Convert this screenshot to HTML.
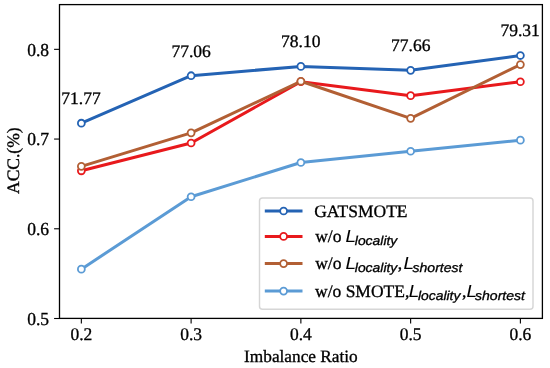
<!DOCTYPE html><html><head><meta charset="utf-8"><style>html,body{margin:0;padding:0;background:#fff;}svg{display:block;will-change:transform}text{text-rendering:geometricPrecision;font-family:"Liberation Serif",serif;fill:#000;stroke:#000;stroke-width:0.32px}.m{font-family:"Liberation Sans",sans-serif;font-style:italic;stroke-width:0.3px}</style></head><body>
<svg width="550" height="368" viewBox="0 0 550 368">
<rect width="550" height="368" fill="#fff"/>
<polyline points="81.35,123.18 191.11,75.72 300.87,66.39 410.63,70.33 520.39,55.53" fill="none" stroke="#2463b4" stroke-width="3.0" stroke-linejoin="round" stroke-linecap="butt"/>
<circle cx="81.35" cy="123.18" r="3.45" fill="#fff" stroke="#2463b4" stroke-width="1.8"/>
<circle cx="191.11" cy="75.72" r="3.45" fill="#fff" stroke="#2463b4" stroke-width="1.8"/>
<circle cx="300.87" cy="66.39" r="3.45" fill="#fff" stroke="#2463b4" stroke-width="1.8"/>
<circle cx="410.63" cy="70.33" r="3.45" fill="#fff" stroke="#2463b4" stroke-width="1.8"/>
<circle cx="520.39" cy="55.53" r="3.45" fill="#fff" stroke="#2463b4" stroke-width="1.8"/>
<polyline points="81.35,170.82 191.11,143.01 300.87,81.64 410.63,95.64 520.39,81.73" fill="none" stroke="#e8191c" stroke-width="3.0" stroke-linejoin="round" stroke-linecap="butt"/>
<circle cx="81.35" cy="170.82" r="3.45" fill="#fff" stroke="#e8191c" stroke-width="1.8"/>
<circle cx="191.11" cy="143.01" r="3.45" fill="#fff" stroke="#e8191c" stroke-width="1.8"/>
<circle cx="300.87" cy="81.64" r="3.45" fill="#fff" stroke="#e8191c" stroke-width="1.8"/>
<circle cx="410.63" cy="95.64" r="3.45" fill="#fff" stroke="#e8191c" stroke-width="1.8"/>
<circle cx="520.39" cy="81.73" r="3.45" fill="#fff" stroke="#e8191c" stroke-width="1.8"/>
<polyline points="81.35,166.33 191.11,132.87 300.87,81.28 410.63,118.33 520.39,64.59" fill="none" stroke="#b25f34" stroke-width="3.0" stroke-linejoin="round" stroke-linecap="butt"/>
<circle cx="81.35" cy="166.33" r="3.45" fill="#fff" stroke="#b25f34" stroke-width="1.8"/>
<circle cx="191.11" cy="132.87" r="3.45" fill="#fff" stroke="#b25f34" stroke-width="1.8"/>
<circle cx="300.87" cy="81.28" r="3.45" fill="#fff" stroke="#b25f34" stroke-width="1.8"/>
<circle cx="410.63" cy="118.33" r="3.45" fill="#fff" stroke="#b25f34" stroke-width="1.8"/>
<circle cx="520.39" cy="64.59" r="3.45" fill="#fff" stroke="#b25f34" stroke-width="1.8"/>
<polyline points="81.35,269.15 191.11,196.75 300.87,162.48 410.63,151.26 520.39,140.14" fill="none" stroke="#5b9bd5" stroke-width="3.0" stroke-linejoin="round" stroke-linecap="butt"/>
<circle cx="81.35" cy="269.15" r="3.45" fill="#fff" stroke="#5b9bd5" stroke-width="1.8"/>
<circle cx="191.11" cy="196.75" r="3.45" fill="#fff" stroke="#5b9bd5" stroke-width="1.8"/>
<circle cx="300.87" cy="162.48" r="3.45" fill="#fff" stroke="#5b9bd5" stroke-width="1.8"/>
<circle cx="410.63" cy="151.26" r="3.45" fill="#fff" stroke="#5b9bd5" stroke-width="1.8"/>
<circle cx="520.39" cy="140.14" r="3.45" fill="#fff" stroke="#5b9bd5" stroke-width="1.8"/>
<rect x="59.5" y="4.6" width="482.9" height="313.79999999999995" fill="none" stroke="#000" stroke-width="1.3"/>
<line x1="54.1" y1="318.50" x2="59.5" y2="318.50" stroke="#000" stroke-width="1.1"/>
<text transform="translate(49.10,324.70) scale(1,1.05)" font-size="17.5" text-anchor="end">0.5</text>
<line x1="54.1" y1="228.78" x2="59.5" y2="228.78" stroke="#000" stroke-width="1.1"/>
<text transform="translate(49.10,234.98) scale(1,1.05)" font-size="17.5" text-anchor="end">0.6</text>
<line x1="54.1" y1="139.06" x2="59.5" y2="139.06" stroke="#000" stroke-width="1.1"/>
<text transform="translate(49.10,145.26) scale(1,1.05)" font-size="17.5" text-anchor="end">0.7</text>
<line x1="54.1" y1="49.34" x2="59.5" y2="49.34" stroke="#000" stroke-width="1.1"/>
<text transform="translate(49.10,55.54) scale(1,1.05)" font-size="17.5" text-anchor="end">0.8</text>
<line x1="81.35" y1="318.4" x2="81.35" y2="323.59999999999997" stroke="#000" stroke-width="1.1"/>
<text transform="translate(81.35,340.30) scale(1,1.02)" font-size="17.5" text-anchor="middle">0.2</text>
<line x1="191.11" y1="318.4" x2="191.11" y2="323.59999999999997" stroke="#000" stroke-width="1.1"/>
<text transform="translate(191.11,340.30) scale(1,1.02)" font-size="17.5" text-anchor="middle">0.3</text>
<line x1="300.87" y1="318.4" x2="300.87" y2="323.59999999999997" stroke="#000" stroke-width="1.1"/>
<text transform="translate(300.87,340.30) scale(1,1.02)" font-size="17.5" text-anchor="middle">0.4</text>
<line x1="410.63" y1="318.4" x2="410.63" y2="323.59999999999997" stroke="#000" stroke-width="1.1"/>
<text transform="translate(410.63,340.30) scale(1,1.02)" font-size="17.5" text-anchor="middle">0.5</text>
<line x1="520.39" y1="318.4" x2="520.39" y2="323.59999999999997" stroke="#000" stroke-width="1.1"/>
<text transform="translate(520.39,340.30) scale(1,1.02)" font-size="17.5" text-anchor="middle">0.6</text>
<text transform="translate(81.00,104.30) scale(1,1.0)" font-size="17.5" text-anchor="middle">71.77</text>
<text transform="translate(191.10,56.60) scale(1,1.0)" font-size="17.5" text-anchor="middle">77.06</text>
<text transform="translate(300.80,46.60) scale(1,1.0)" font-size="17.5" text-anchor="middle">78.10</text>
<text transform="translate(410.70,50.60) scale(1,1.0)" font-size="17.5" text-anchor="middle">77.66</text>
<text transform="translate(520.10,35.60) scale(1,1.0)" font-size="17.5" text-anchor="middle">79.31</text>
<text transform="translate(300.90,362.30) scale(1,1.0)" font-size="17.3" text-anchor="middle">Imbalance Ratio</text>
<g transform="translate(19.0,160.7) rotate(-90)"><text transform="translate(0.00,0.00) scale(1,1.0)" font-size="17.5" text-anchor="middle">ACC.(%)</text></g>
<rect x="259.5" y="197.9" width="273.5" height="111.4" rx="3" ry="3" fill="#fff" fill-opacity="0.8" stroke="#d6d6d6" stroke-width="1.45"/>
<line x1="264.8" y1="211.0" x2="302.5" y2="211.0" stroke="#2463b4" stroke-width="3.0"/>
<circle cx="283.6" cy="211.0" r="3.45" fill="#fff" stroke="#2463b4" stroke-width="1.8"/>
<line x1="264.8" y1="236.4" x2="302.5" y2="236.4" stroke="#e8191c" stroke-width="3.0"/>
<circle cx="283.6" cy="236.4" r="3.45" fill="#fff" stroke="#e8191c" stroke-width="1.8"/>
<line x1="264.8" y1="263.6" x2="302.5" y2="263.6" stroke="#b25f34" stroke-width="3.0"/>
<circle cx="283.6" cy="263.6" r="3.45" fill="#fff" stroke="#b25f34" stroke-width="1.8"/>
<line x1="264.8" y1="291.1" x2="302.5" y2="291.1" stroke="#5b9bd5" stroke-width="3.0"/>
<circle cx="283.6" cy="291.1" r="3.45" fill="#fff" stroke="#5b9bd5" stroke-width="1.8"/>
<text transform="translate(314.20,216.90) scale(1,1.0)" font-size="17.5">GATSMOTE</text>
<text transform="translate(315.20,241.50) scale(1,1.0)" font-size="17.5">w/o</text>
<text transform="translate(345.50,242.00) scale(1.08,1)" font-size="17.5" class="m" style="stroke-width:0.05px">L</text>
<text transform="translate(354.80,244.80) scale(1,1.0)" font-size="12.9" class="m" textLength="42.5" lengthAdjust="spacingAndGlyphs">locality</text>
<text transform="translate(315.20,268.70) scale(1,1.0)" font-size="17.5">w/o</text>
<text transform="translate(345.50,269.20) scale(1.08,1)" font-size="17.5" class="m" style="stroke-width:0.05px">L</text>
<text transform="translate(354.80,272.00) scale(1,1.0)" font-size="12.9" class="m" textLength="42.5" lengthAdjust="spacingAndGlyphs">locality</text>
<text transform="translate(397.80,268.70) scale(1,1.0)" font-size="17.5">,</text>
<text transform="translate(403.40,269.20) scale(1.08,1)" font-size="17.5" class="m" style="stroke-width:0.05px">L</text>
<text transform="translate(412.50,272.00) scale(1,1.0)" font-size="12.9" class="m" textLength="50.0" lengthAdjust="spacingAndGlyphs">shortest</text>
<text transform="translate(315.00,296.70) scale(1,1.0)" font-size="17.5">w/o SMOTE,</text>
<text transform="translate(408.80,297.20) scale(1.08,1)" font-size="17.5" class="m" style="stroke-width:0.05px">L</text>
<text transform="translate(417.90,300.00) scale(1,1.0)" font-size="12.9" class="m" textLength="42.5" lengthAdjust="spacingAndGlyphs">locality</text>
<text transform="translate(462.00,296.70) scale(1,1.0)" font-size="17.5">,</text>
<text transform="translate(466.40,297.20) scale(1.08,1)" font-size="17.5" class="m" style="stroke-width:0.05px">L</text>
<text transform="translate(475.00,300.00) scale(1,1.0)" font-size="12.9" class="m" textLength="50.0" lengthAdjust="spacingAndGlyphs">shortest</text>
</svg></body></html>
